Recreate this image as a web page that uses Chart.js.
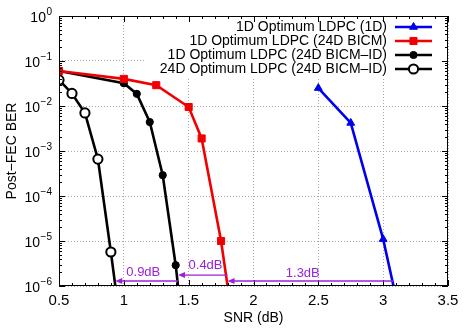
<!DOCTYPE html>
<html>
<head>
<meta charset="utf-8">
<script src="https://cdn.jsdelivr.net/npm/chart.js@4"></script>
<style>
html,body{margin:0;padding:0;background:#fff;}
#wrap{width:474px;height:331px;}
</style>
</head>
<body>
<div id="wrap"><canvas id="c" width="474" height="331"></canvas></div>
<script>
// ---- data ----
const snr1D   = [2.5, 2.75, 3.0, 3.15];
const ber1D   = [0.025, 0.0042, 1.1e-5, 1.2e-7];
const snrBICM = [0.5, 1.0, 1.25, 1.5, 1.6, 1.75, 1.85];
const berBICM = [0.06, 0.04, 0.029, 0.0095, 0.0019, 1.0e-5, 1.0e-7];
const snrID1  = [0.5, 1.0, 1.1, 1.2, 1.3, 1.4, 1.45];
const berID1  = [0.06, 0.032, 0.0186, 0.0044, 2.9e-4, 2.9e-6, 1.5e-7];
const snrID24 = [0.5, 0.6, 0.7, 0.8, 0.9, 0.95];
const berID24 = [0.038, 0.019, 0.007, 6.6e-4, 5.7e-6, 4.6e-7];

const seriesLabels = [
  '1D Optimum LDPC (1D)',
  '1D Optimum LDPC (24D BICM)',
  '1D Optimum LDPC (24D BICM\u2013ID)',
  '24D Optimum LDPC (24D BICM\u2013ID)'
];
const xTicks = [0.5, 1, 1.5, 2, 2.5, 3, 3.5];
const yDecades = [1e-6, 1e-5, 1e-4, 1e-3, 1e-2, 1e-1, 1];

// gap annotations (arrows)
const gapFrom   = [3.08, 1.80, 1.418];
const gapTo     = [1.80, 1.418, 0.934];
const gapBer    = [1.29e-6, 1.75e-6, 1.29e-6];
const gapText   = ['1.3dB', '0.4dB', '0.9dB'];
const gapTextX  = [2.38, 1.63, 1.15];
const gapTextY  = [1.95e-6, 2.93e-6, 1.98e-6];

const FONT = "'Liberation Sans', Arial, Helvetica, sans-serif";
const PURPLE = '#9a22d8';

function pts(xs, ys){ return xs.map((x,i)=>({x:x, y:ys[i]})); }

const datasets = [
  {label: seriesLabels[0], data: pts(snr1D, ber1D), borderColor:'#0000f0', backgroundColor:'#0000f0',
   pointStyle:'triangle', pointRadius:4.5, pointBorderWidth:1, borderWidth:2.6},
  {label: seriesLabels[1], data: pts(snrBICM, berBICM), borderColor:'#f00000', backgroundColor:'#f00000',
   pointStyle:'rect', pointRadius:5, pointBorderWidth:1, borderWidth:2.6},
  {label: seriesLabels[2], data: pts(snrID1, berID1), borderColor:'#000000', backgroundColor:'#000000',
   pointStyle:'circle', pointRadius:3.6, pointBorderWidth:1, borderWidth:2.6},
  {label: seriesLabels[3], data: pts(snrID24, berID24), borderColor:'#000000', backgroundColor:'#ffffff',
   pointStyle:'circle', pointRadius:4.6, pointBorderWidth:2, borderWidth:2.6}
];
datasets.forEach(d=>{ d.tension = 0; d.fill = false; d.pointBackgroundColor = d.backgroundColor; d.pointBorderColor = d.borderColor; });

const bgPlugin = {
  id:'bg',
  beforeDraw(chart){
    const ctx = chart.ctx; ctx.save(); ctx.fillStyle='#fff';
    ctx.fillRect(0,0,chart.width,chart.height); ctx.restore();
  },
  beforeDatasetsDraw(chart){
    // opaque key box (as in gnuplot) hides grid behind legend
    const ctx = chart.ctx, a = chart.chartArea;
    ctx.save(); ctx.fillStyle='#fff';
    ctx.fillRect(145, a.top+2, a.right-145-1, 59);
    ctx.restore();
  },
  afterDraw(chart){
    const ctx = chart.ctx, a = chart.chartArea;
    const xs = chart.scales.x, ys = chart.scales.y;
    ctx.save();
    // frame
    ctx.strokeStyle='#000'; ctx.lineWidth=1;
    ctx.strokeRect(a.left+0.5, a.top+0.5, a.right-a.left-1, a.bottom-a.top-1);
    // ticks
    ctx.beginPath();
    for (let v=0.5; v<=3.5001; v+=0.1){
      const px = Math.round(xs.getPixelForValue(v))+0.5;
      const major = Math.abs(v*2 - Math.round(v*2)) < 1e-6;
      const L = major ? 6 : 3;
      ctx.moveTo(px, a.bottom); ctx.lineTo(px, a.bottom-L);
      ctx.moveTo(px, a.top); ctx.lineTo(px, a.top+L);
    }
    for (let e=-6; e<=0; e++){
      for (let m=1; m<=9; m++){
        const v = m*Math.pow(10,e);
        if (v>1.0001) break;
        const py = Math.round(ys.getPixelForValue(v))+0.5;
        const L = m===1 ? 6 : 3;
        ctx.moveTo(a.left, py); ctx.lineTo(a.left+L, py);
        ctx.moveTo(a.right, py); ctx.lineTo(a.right-L, py);
      }
    }
    ctx.stroke();
    // y tick labels 10^n
    ctx.fillStyle='#000';
    yDecades.forEach(v=>{
      const e = Math.round(Math.log10(v));
      const py = ys.getPixelForValue(v);
      const expStr = e===0 ? '0' : '\u2212'+Math.abs(e);
      ctx.font = '10px '+FONT;
      const ew = ctx.measureText(expStr).width;
      const right = 52;
      ctx.textAlign='right'; ctx.textBaseline='middle';
      ctx.fillText(expStr, right, py-3.5);
      ctx.font = '14px '+FONT;
      ctx.fillText('10', right-ew-0.5, py+2);
    });
    // gap arrows
    ctx.strokeStyle=PURPLE; ctx.fillStyle=PURPLE; ctx.lineWidth=1.3;
    gapFrom.forEach((f,i)=>{
      const x1 = xs.getPixelForValue(f), x2 = xs.getPixelForValue(gapTo[i]);
      const y = ys.getPixelForValue(gapBer[i]);
      ctx.beginPath(); ctx.moveTo(x1,y); ctx.lineTo(x2+4,y); ctx.stroke();
      ctx.beginPath(); ctx.moveTo(x2,y); ctx.lineTo(x2+7,y-3); ctx.lineTo(x2+7,y+3); ctx.closePath(); ctx.fill();
      ctx.font='13px '+FONT; ctx.textAlign='center'; ctx.textBaseline='middle';
      ctx.fillText(gapText[i], xs.getPixelForValue(gapTextX[i]), ys.getPixelForValue(gapTextY[i]));
    });
    // legend (key)
    const rowY = [27, 41, 55, 69];
    chart.data.datasets.forEach((d,i)=>{
      const y = rowY[i];
      ctx.font='14px '+FONT; ctx.fillStyle='#000'; ctx.textAlign='right'; ctx.textBaseline='middle';
      ctx.fillText(d.label, 387, y+0.5);
      ctx.strokeStyle=d.borderColor; ctx.lineWidth=d.borderWidth;
      ctx.beginPath(); ctx.moveTo(395,y); ctx.lineTo(432,y); ctx.stroke();
      ctx.fillStyle=d.backgroundColor; ctx.lineWidth=d.pointBorderWidth;
      Chart.helpers.drawPoint(ctx, {pointStyle:d.pointStyle, radius:d.pointRadius, borderWidth:d.pointBorderWidth, rotation:0}, 413.5, y);
    });
    ctx.restore();
  }
};

new Chart(document.getElementById('c'), {
  type:'line',
  data:{datasets:datasets},
  options:{
    responsive:false, animation:false, devicePixelRatio:1,
    layout:{padding:{top:16, right:26, left:0, bottom:0}},
    plugins:{legend:{display:false}, tooltip:{enabled:false}},
    scales:{
      x:{type:'linear', min:0.5, max:3.5,
         afterBuildTicks:s=>{ s.ticks = xTicks.map(v=>({value:v})); },
         afterFit:s=>{ s.height = 45; },
         ticks:{font:{family:FONT,size:15}, color:'#000', padding:6, callback:v=>String(v)},
         grid:{color:'#a8a8a8', lineWidth:1, drawTicks:false},
         border:{display:false, dash:[1,2]},
         title:{display:true, text:'SNR (dB)', font:{family:FONT,size:14}, color:'#000', padding:{top:4,bottom:4}}
      },
      y:{type:'logarithmic', min:1e-6, max:1,
         afterBuildTicks:s=>{ s.ticks = yDecades.map(v=>({value:v})); },
         afterFit:s=>{ s.width = 59; },
         ticks:{display:false},
         grid:{color:'#a8a8a8', lineWidth:1, drawTicks:false},
         border:{display:false, dash:[1,2]},
         title:{display:true, text:'Post\u2212FEC BER', font:{family:FONT,size:14}, color:'#000', padding:{top:4,bottom:4}}
      }
    }
  },
  plugins:[bgPlugin]
});
</script>
</body>
</html>
